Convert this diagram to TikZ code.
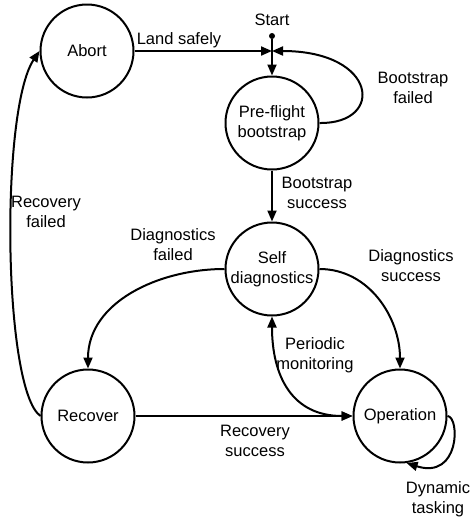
\documentclass[tikz,border=0pt]{standalone}
\usepackage{fontspec}
\setmainfont{Liberation Sans}
\usetikzlibrary{arrows.meta}
\begin{document}
\begin{tikzpicture}[x=1pt,y=-1pt,
  state/.style={circle,draw,line width=2pt,minimum size=93pt,inner sep=0pt,align=center},
  lbl/.style={align=center},
  conn/.style={line width=2pt,-{Triangle[length=11pt,width=9pt]}},
  every node/.style={font=\fontsize{16.5}{20}\selectfont}]
\useasboundingbox (0,0) rectangle (474,520);
\node[state] (ab) at (87,51) {Abort};
\node[state] (pf) at (272,123) {Pre-flight\\bootstrap};
\node[state] (sd) at (272,269) {Self\\diagnostics};
\node[state] (rec) at (88,416) {Recover};
\node[state] (op) at (400,416) {Operation};
\node[circle,fill,inner sep=0pt,minimum size=6pt] (st) at (272,36) {};
\coordinate (j) at (272,51);
\node[lbl] (stl) at (272,20) {Start};
% connectors
\draw[line width=2pt] (st) -- (j);
\draw[conn] (j) -- (pf.north);
\draw[conn] (ab.east) -- (j);
\draw[conn] (pf.east) .. controls (385,124) and (378,51) .. (j);
\draw[conn] (pf.south) -- (sd.north);
\draw[conn] (sd.west) to[out=180,in=90] (rec.north);
\draw[conn] (sd.east) to[out=0,in=90] (op.north);
\draw[conn] (rec.east) -- (op.west);
\draw[conn,{Triangle[length=11pt,width=9pt]}-{Triangle[length=11pt,width=9pt]}] (sd.south) to[out=-90,in=180,looseness=1.2] (op.west);
\draw[conn] (rec.west) .. controls (3,390) and (0,110) .. (ab.west);
\draw[conn] (op.east) .. controls (460,417) and (460,480) .. (op.-82);
% labels
\node[lbl] at (179,40) {Land safely};
\node[lbl] at (413,88) {Bootstrap\\failed};
\node[lbl] at (317,193) {Bootstrap\\success};
\node[lbl] at (173,245) {Diagnostics\\failed};
\node[lbl] at (411,266) {Diagnostics\\success};
\node[lbl] at (46,212) {Recovery\\failed};
\node[lbl] at (315,355) {Periodic\\monitoring};
\node[lbl] at (255,441) {Recovery\\success};
\node[lbl] at (438,499) {Dynamic\\tasking};
\end{tikzpicture}
\end{document}
